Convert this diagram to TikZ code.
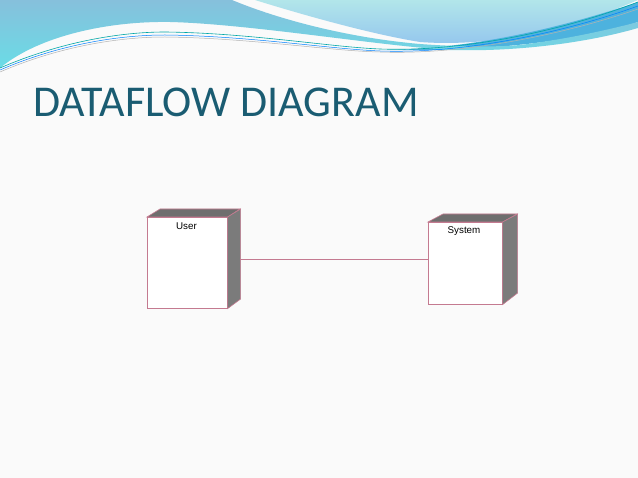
\documentclass[tikz,border=0pt]{standalone}
\usepackage{fontspec}
\setmainfont{Liberation Sans}
\newfontfamily\titlefont{Carlito}
\begin{document}
\begin{tikzpicture}[x=1pt,y=-1pt,
  frame/.style={draw=boxline,line width=0.6pt},
  front/.style={frame,fill=white,rectangle,inner sep=0pt,anchor=north west},
  side/.style={frame,fill=sidegray},
  lbl/.style={font=\fontsize{9.8}{11}\selectfont,inner sep=0pt,anchor=base},
  conn/.style={draw=boxline,line width=0.5pt}]
\definecolor{bg}{HTML}{FAFAFA}
\definecolor{boxline}{HTML}{C47A90}
\definecolor{sidegray}{HTML}{7B7B7B}
\definecolor{topgray}{HTML}{6E6E6E}
\definecolor{titlec}{HTML}{1A5C72}
\definecolor{waveA}{HTML}{86C0DC}
\definecolor{waveB}{HTML}{6ADCE6}
\definecolor{lightA}{HTML}{B2E6EA}
\definecolor{lightB}{HTML}{92C4EE}
\definecolor{bandc}{HTML}{4DB2DE}
\useasboundingbox (0,0) rectangle (638,478);
\fill[bg] (0,0) rectangle (638,478);
% light region top right
\shade[top color=lightA,bottom color=lightB]
  (255,0) .. controls (300,14) and (370,34) .. (420,42)
  .. controls (500,48) and (580,25) .. (638,0) -- cycle;
% right blue band
\fill[bandc] (390,50) .. controls (480,48) and (570,25) .. (638,2)
  -- (638,22) .. controls (590,38) and (500,52) .. (390,50) -- cycle;
% main blue region
\shade[top color=waveA,bottom color=waveB]
  (0,0) -- (232,0) .. controls (280,20) and (350,38) .. (420,44)
  .. controls (460,47) and (500,47) .. (520,45)
  .. controls (560,40) and (600,32) .. (638,22)
  -- (638,28) .. controls (590,42) and (520,52) .. (450,50)
  .. controls (380,46) and (250,24) .. (170,22)
  .. controls (110,21) and (40,35) .. (0,68) -- cycle;
% thin lines
\draw[line width=0.6pt,color=teal!70!cyan] (0,68) .. controls (60,42) and (120,32) .. (165,32)
  .. controls (250,33) and (330,47) .. (380,49) .. controls (460,52) and (560,32) .. (638,2);
\draw[line width=0.5pt,color=blue!50!cyan] (0,70) .. controls (60,44) and (120,35) .. (165,35)
  .. controls (250,36) and (330,49) .. (380,51) .. controls (460,54) and (560,34) .. (638,6);
\draw[line width=0.5pt,color=gray!60] (0,72) .. controls (60,46) and (120,37) .. (165,37)
  .. controls (250,38) and (330,51) .. (380,52) .. controls (460,55) and (560,36) .. (638,9);
% title
\node[font=\titlefont\fontsize{44}{48}\selectfont,text=titlec,anchor=base west,inner sep=0pt]
  (title) at (33,117) {DATAFLOW DIAGRAM};
% User box
\node[front,minimum width=80pt,minimum height=91pt] (user) at (147,217) {};
\path[side,fill=topgray] (user.north west) -- ++(13,-8) -- ++(80,0) -- (user.north east) -- cycle;
\path[side] (user.north east) -- ++(13,-8) -- ++(0,90) -- (user.south east) -- cycle;
\node[lbl] (userlbl) at (186.5,229.5) {User};
% System box
\node[front,minimum width=74pt,minimum height=82pt] (system) at (428,222) {};
\path[side,fill=topgray] (system.north west) -- ++(15,-8) -- ++(74,0) -- (system.north east) -- cycle;
\path[side] (system.north east) -- ++(15,-8) -- ++(0,79) -- (system.south east) -- cycle;
\node[lbl] (syslbl) at (464,233.5) {System};
% connector
\coordinate (ua) at (240,259);
\draw[conn] (ua) -- (system.west |- ua);
\end{tikzpicture}
\end{document}
